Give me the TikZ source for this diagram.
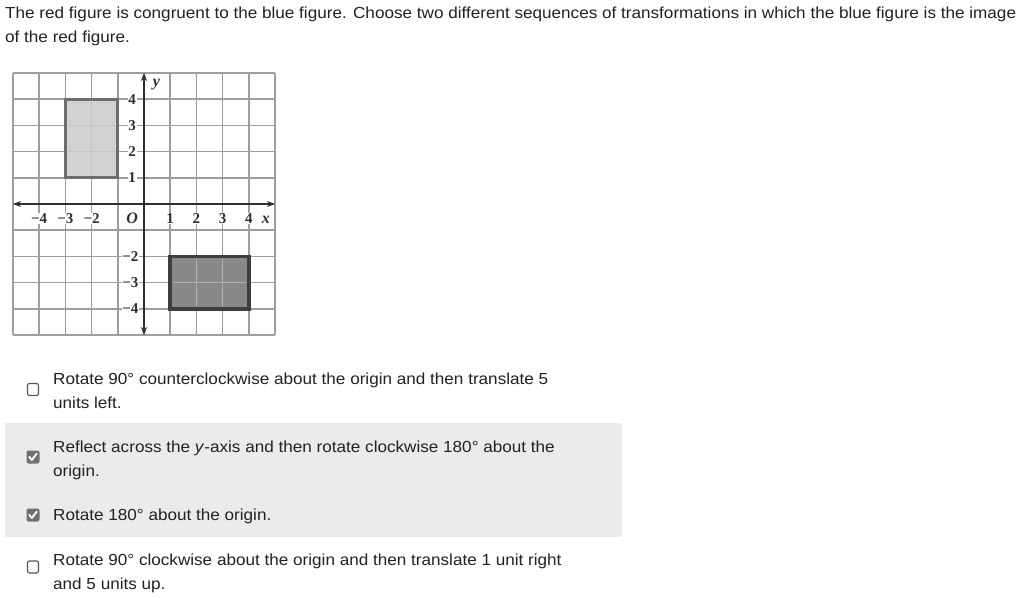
\documentclass[tikz,border=0pt]{standalone}
\usepackage{fontspec}
\setmainfont[FakeStretch=1.07]{Liberation Sans}
\newfontfamily\graphfont{Liberation Serif}
\usetikzlibrary{arrows.meta}
\definecolor{txt}{HTML}{222222}
\definecolor{band}{HTML}{EBEBEB}
\definecolor{gridc}{HTML}{9E9E9E}
\definecolor{axisc}{HTML}{2E2E2E}
\definecolor{redfill}{HTML}{D2D2D2}
\definecolor{redline}{HTML}{6E6E6E}
\definecolor{bluefill}{HTML}{888888}
\definecolor{blueline}{HTML}{3E3E3E}
\definecolor{boxline}{HTML}{555555}
\definecolor{checkfill}{HTML}{707070}
\tikzset{
  bodytext/.style={anchor=base west, inner sep=0pt, text=txt, font=\fontsize{16}{18}\selectfont},
  ticklab/.style={inner sep=0.6pt, fill=white, text=axisc, font=\graphfont\bfseries\fontsize{15}{15}\selectfont},
  axislab/.style={inner sep=0.6pt, text=axisc, font=\graphfont\bfseries\itshape\fontsize{16}{16}\selectfont},
  emptybox/.style={draw=boxline, line width=1.1pt, fill=white, rounded corners=2pt, minimum width=11pt, minimum height=12pt, inner sep=0pt},
  checkedbox/.style={fill=checkfill, rounded corners=2pt, minimum width=13pt, minimum height=13pt, inner sep=0pt},
  checkmark/.style={white, line width=1.8pt, line cap=round, line join=round},
  axisline/.style={draw=axisc, line width=1.6pt, {Stealth[length=8pt,width=6pt]}-{Stealth[length=8pt,width=6pt]}}
}
\begin{document}
\begin{tikzpicture}[x=1pt,y=1pt]
\useasboundingbox (0,0) rectangle (1024,-597);
\fill[white] (0,0) rectangle (1024,-597);

% title
\node[bodytext] (t1) at (5,-18.3) {The red figure is congruent to the blue figure. Choose two different sequences of transformations in which the blue figure is the image};
\node[bodytext] (t2) at (5,-42.3) {of the red figure.};

% graph
\begin{scope}[shift={(144,-204)}, x=26.2pt, y=26.2pt]
  \foreach \i in {-5,...,5} {
    \draw[gridc, line width=1.5pt] (\i,-5) -- (\i,5);
    \draw[gridc, line width=1.5pt] (-5,\i) -- (5,\i);
  }
  % red figure
  \filldraw[fill=redfill, draw=redline, line width=2.8pt] (-3,1) rectangle (-1,4);
  \draw[gridc!60!white, line width=0.8pt] (-2,1.1) -- (-2,3.9) (-2.9,2) -- (-1.1,2) (-2.9,3) -- (-1.1,3);
  % blue figure
  \filldraw[fill=bluefill, draw=blueline, line width=3.6pt] (1,-4) rectangle (4,-2);
  \draw[gridc!80!white, line width=0.8pt] (2,-3.9) -- (2,-2.1) (3,-3.9) -- (3,-2.1) (1.1,-3) -- (3.9,-3);
  % axes
  \coordinate (xl) at (-5,0); \coordinate (xr) at (5,0);
  \coordinate (yb) at (0,-5); \coordinate (yt) at (0,5);
  \draw[axisline] (xl) -- (xr);
  \draw[axisline] (yb) -- (yt);
  % tick labels
  \foreach \k in {1,2,3,4} \node[ticklab] (ly\k) at (-0.45,\k) {\k};
  \foreach \k in {2,3,4} \node[ticklab] (lym\k) at (-0.52,-\k) {−\k};
  \foreach \k in {2,3,4} \node[ticklab] (lxm\k) at (-\k,-0.55) {−\k};
  \foreach \k in {1,2,3,4} \node[ticklab] (lx\k) at (\k,-0.55) {\k};
  \node[axislab] (lo) at (-0.45,-0.55) {O};
  \node[axislab] (lxx) at (4.65,-0.6) {x};
  \node[axislab] (lyy) at (0.47,4.57) {y};
\end{scope}

% answer band
\fill[band] (5,-423) rectangle (621.5,-536.7);

% options
\node[emptybox] (c1) at (33,-389.5) {};
\node[bodytext] (o1a) at (53,-384) {Rotate 90° counterclockwise about the origin and then translate 5};
\node[bodytext] (o1b) at (53,-408) {units left.};

\node[checkedbox] (c2) at (33,-457) {};
\draw[checkmark] ([shift={(-3.8,0.2)}]c2.center) -- ([shift={(-1.2,-3)}]c2.center) -- ([shift={(3.8,3.4)}]c2.center);
\node[bodytext] (o2a) at (53,-452) {Reflect across the \textit{y}-axis and then rotate clockwise 180° about the};
\node[bodytext] (o2b) at (53,-476) {origin.};

\node[checkedbox] (c3) at (33,-515) {};
\draw[checkmark] ([shift={(-3.8,0.2)}]c3.center) -- ([shift={(-1.2,-3)}]c3.center) -- ([shift={(3.8,3.4)}]c3.center);
\node[bodytext] (o3) at (53,-520) {Rotate 180° about the origin.};

\node[emptybox] (c4) at (33,-567) {};
\node[bodytext] (o4a) at (53,-565) {Rotate 90° clockwise about the origin and then translate 1 unit right};
\node[bodytext] (o4b) at (53,-589) {and 5 units up.};
\end{tikzpicture}
\end{document}
